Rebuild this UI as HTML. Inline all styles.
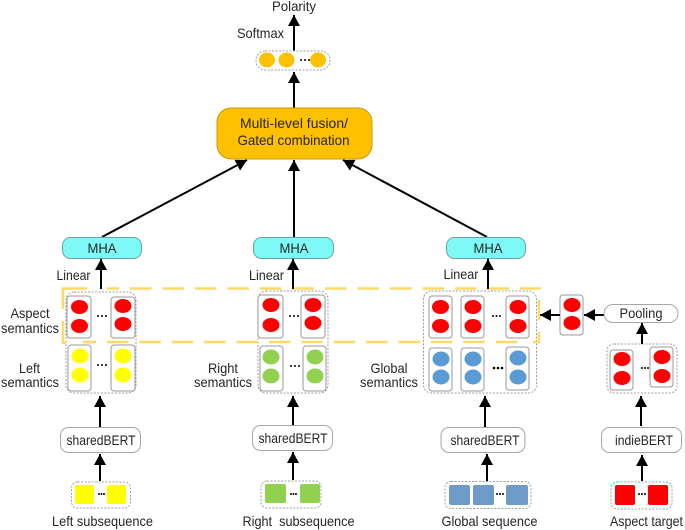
<!DOCTYPE html>
<html><head><meta charset="utf-8"><style>
html,body{margin:0;padding:0;background:#fff;width:685px;height:530px;overflow:hidden}
svg{display:block}
text{font-family:"Liberation Sans",sans-serif;font-size:14px;fill:#262626;text-anchor:middle}
.c{fill:#fff;stroke:#999;stroke-width:1}
.d{fill:none;stroke:#a0a0a0;stroke-width:1;stroke-dasharray:2 1.5}
.b{fill:#fff;stroke:#a6a6a6;stroke-width:1}
.m{fill:#7dfaf8;stroke:#6aa5a5;stroke-width:1}
.a{stroke:#000;stroke-width:2;fill:none;marker-end:url(#h)}
.o{stroke:#ffd966;stroke-width:2.5;fill:none}
.r{fill:#ff0000}.y{fill:#ffff00}.g{fill:#92d050}.u{fill:#5b9bd5}
</style></head><body>
<svg width="685" height="530" viewBox="0 0 685 530" xmlns="http://www.w3.org/2000/svg">
<defs><marker id="h" markerUnits="userSpaceOnUse" markerWidth="13" markerHeight="13" refX="11" refY="6" orient="auto"><path d="M0 0L11 6L0 12Z" fill="#000"/></marker></defs>

<!-- containers -->
<rect class="d" x="66" y="292" width="70" height="101" rx="8"/>
<rect class="d" x="258" y="291" width="70" height="102" rx="8"/>
<rect class="d" x="423.500" y="291" width="113" height="102" rx="8"/>
<rect class="d" x="607" y="344" width="70" height="49" rx="7"/>

<!-- orange dashed frame -->
<path class="o" d="M63 309V288.500H87M107 288.500H119"/>
<path class="o" stroke-dasharray="21.500 11" d="M130 288.500H541"/>
<path class="o" d="M63 321V343H66M83 342H96"/>
<path class="o" stroke-dasharray="21.400 11" d="M107 342H528"/>
<path class="o" d="M539 300V320M539 332V342H533"/>

<!-- left cards -->
<rect class="c" x="67" y="296" width="24" height="42" rx="3"/><ellipse class="r" cx="79.500" cy="307" rx="8.500" ry="7"/><ellipse class="r" cx="79.500" cy="326" rx="8.500" ry="7"/>
<rect class="c" x="111" y="297" width="24" height="41" rx="3"/><ellipse class="r" cx="123" cy="306" rx="8.500" ry="7"/><ellipse class="r" cx="123" cy="324" rx="8.500" ry="7"/>
<rect class="c" x="68" y="345" width="23" height="46" rx="3"/><ellipse class="y" cx="80" cy="356" rx="8.500" ry="7.500"/><ellipse class="y" cx="80" cy="375" rx="8.500" ry="7.500"/>
<rect class="c" x="111" y="345" width="24" height="46" rx="3"/><ellipse class="y" cx="123" cy="356" rx="8.500" ry="7.500"/><ellipse class="y" cx="123" cy="375" rx="8.500" ry="7.500"/>

<!-- middle cards -->
<rect class="c" x="258" y="295" width="25" height="43" rx="3"/><ellipse class="r" cx="271" cy="305" rx="8.500" ry="7"/><ellipse class="r" cx="271" cy="325" rx="8.500" ry="7"/>
<rect class="c" x="301" y="295" width="24" height="43" rx="3"/><ellipse class="r" cx="313" cy="305" rx="8.500" ry="7"/><ellipse class="r" cx="313" cy="323" rx="8.500" ry="7"/>
<rect class="c" x="260" y="346" width="23" height="45" rx="3"/><ellipse class="g" cx="271" cy="357" rx="8.500" ry="7.500"/><ellipse class="g" cx="271" cy="376" rx="8.500" ry="7.500"/>
<rect class="c" x="303" y="346" width="23" height="45" rx="3"/><ellipse class="g" cx="315" cy="357" rx="8.500" ry="7.500"/><ellipse class="g" cx="315" cy="376" rx="8.500" ry="7.500"/>

<!-- global cards -->
<rect class="c" x="429" y="296" width="23" height="42" rx="3"/><ellipse class="r" cx="440.500" cy="307" rx="8.500" ry="7"/><ellipse class="r" cx="440.500" cy="326" rx="8.500" ry="7"/>
<rect class="c" x="461" y="296" width="23" height="42" rx="3"/><ellipse class="r" cx="473" cy="307" rx="8.500" ry="7"/><ellipse class="r" cx="473" cy="326" rx="8.500" ry="7"/>
<rect class="c" x="506" y="296" width="23" height="42" rx="3"/><ellipse class="r" cx="518" cy="307" rx="8.500" ry="7"/><ellipse class="r" cx="518" cy="326" rx="8.500" ry="7"/>
<rect class="c" x="429" y="348" width="23" height="43" rx="3"/><ellipse class="u" cx="441" cy="359" rx="8.500" ry="7.500"/><ellipse class="u" cx="441" cy="377" rx="8.500" ry="7.500"/>
<rect class="c" x="461" y="348" width="23" height="43" rx="3"/><ellipse class="u" cx="473" cy="359" rx="8.500" ry="7.500"/><ellipse class="u" cx="473" cy="377" rx="8.500" ry="7.500"/>
<rect class="c" x="506" y="347" width="23" height="43" rx="3"/><ellipse class="u" cx="518" cy="358" rx="8.500" ry="7.500"/><ellipse class="u" cx="518" cy="377" rx="8.500" ry="7.500"/>

<!-- aspect column cards -->
<rect class="c" x="560" y="295" width="23" height="40" rx="3"/><ellipse class="r" cx="572" cy="305" rx="8.500" ry="7"/><ellipse class="r" cx="572" cy="323" rx="8.500" ry="7"/>
<rect class="c" x="610" y="350" width="23" height="40" rx="3"/><ellipse class="r" cx="622" cy="359" rx="8.500" ry="7"/><ellipse class="r" cx="622" cy="378" rx="8.500" ry="7"/>
<rect class="c" x="650" y="347" width="23" height="40" rx="3"/><ellipse class="r" cx="662" cy="357" rx="8.500" ry="7"/><ellipse class="r" cx="662" cy="376" rx="8.500" ry="7"/>

<!-- connectors -->
<line class="a" x1="294" y1="51" x2="294" y2="15"/>
<line class="a" x1="294" y1="108" x2="294" y2="72"/>
<line class="a" x1="294" y1="237" x2="294" y2="160"/>
<line class="a" x1="102" y1="237" x2="247" y2="160"/>
<line class="a" x1="487" y1="237" x2="343" y2="160"/>
<line class="a" x1="101" y1="289" x2="101" y2="259"/>
<line class="a" x1="293" y1="289" x2="293" y2="259"/>
<line class="a" x1="488" y1="289" x2="488" y2="259"/>
<line class="a" x1="100" y1="427" x2="100" y2="396"/>
<line class="a" x1="293" y1="425" x2="293" y2="396"/>
<line class="a" x1="485" y1="427" x2="485" y2="396"/>
<line class="a" x1="641" y1="426" x2="641" y2="396"/>
<line class="a" x1="100" y1="481" x2="100" y2="454"/>
<line class="a" x1="293" y1="480" x2="293" y2="452"/>
<line class="a" x1="487" y1="481" x2="487" y2="454"/>
<line class="a" x1="642" y1="481" x2="642" y2="455"/>
<line class="a" x1="642" y1="344" x2="642" y2="323"/>
<line class="a" x1="604" y1="315" x2="584" y2="315"/>
<line class="a" x1="560" y1="315" x2="540" y2="315"/>

<!-- softmax pill -->
<rect class="d" x="256" y="51" width="74" height="19" rx="9" fill="#fff"/>
<ellipse fill="#ffc000" cx="267" cy="60" rx="8" ry="7.500"/><ellipse fill="#ffc000" cx="286.500" cy="60" rx="8" ry="7.500"/><ellipse fill="#ffc000" cx="318" cy="60" rx="8" ry="7.500"/>

<!-- fusion -->
<rect x="217" y="108" width="155" height="51" rx="14" fill="#ffc000" stroke="#c89a10" stroke-width="1"/>
<text x="294" y="128" textLength="108" lengthAdjust="spacingAndGlyphs">Multi-level fusion/</text>
<text x="293.500" y="145" textLength="112" lengthAdjust="spacingAndGlyphs">Gated combination</text>

<!-- MHA -->
<rect class="m" x="62.500" y="237.500" width="79" height="21" rx="8"/>
<rect class="m" x="253.500" y="237.500" width="80" height="21" rx="8"/>
<rect class="m" x="446.500" y="237.500" width="79" height="21" rx="8"/>
<text x="102" y="253" textLength="29" lengthAdjust="spacingAndGlyphs">MHA</text>
<text x="294" y="253" textLength="29" lengthAdjust="spacingAndGlyphs">MHA</text>
<text x="488" y="253" textLength="29" lengthAdjust="spacingAndGlyphs">MHA</text>

<!-- BERT boxes -->
<rect class="b" x="60.500" y="427.500" width="80" height="25" rx="8"/>
<rect class="b" x="252.500" y="425.500" width="80" height="25" rx="8"/>
<rect class="b" x="441" y="427.500" width="84" height="25" rx="8"/>
<rect class="b" x="601.500" y="427.500" width="80" height="25" rx="8"/>
<text x="101" y="445" textLength="69" lengthAdjust="spacingAndGlyphs">sharedBERT</text>
<text x="293" y="443" textLength="69" lengthAdjust="spacingAndGlyphs">sharedBERT</text>
<text x="485" y="445" textLength="69" lengthAdjust="spacingAndGlyphs">sharedBERT</text>
<text x="644" y="445" textLength="58" lengthAdjust="spacingAndGlyphs">indieBERT</text>

<!-- pooling -->
<rect class="b" x="604" y="304.500" width="74" height="18" rx="9"/>
<text x="641" y="318" textLength="43" lengthAdjust="spacingAndGlyphs">Pooling</text>

<!-- input sequences -->
<rect class="d" x="71.500" y="482" width="59" height="26" rx="6"/>
<rect x="75" y="485" width="19" height="19" rx="2" fill="#ffff00"/><rect x="107" y="485" width="19" height="19" rx="2" fill="#ffff00"/>
<rect class="d" x="261" y="481" width="60" height="27" rx="6"/>
<rect x="265" y="484" width="21" height="19" rx="2" fill="#92d050"/><rect x="300" y="484" width="20" height="19" rx="2" fill="#92d050"/>
<rect class="d" x="445" y="481.500" width="86" height="27" rx="6"/>
<rect x="449" y="485" width="21" height="20" rx="2" fill="#6f9bc9"/><rect x="473" y="485" width="21" height="20" rx="2" fill="#6f9bc9"/><rect x="506" y="485" width="22" height="20" rx="2" fill="#6f9bc9"/>
<rect class="d" x="611" y="482" width="61" height="27" rx="6"/>
<rect x="615" y="485" width="20" height="20" rx="2" fill="#ff0000"/><rect x="648" y="485" width="20" height="20" rx="2" fill="#ff0000"/>

<!-- ellipsis dots -->
<g fill="#000">
<circle cx="98" cy="316" r="1"/><circle cx="102" cy="316" r="1"/><circle cx="106" cy="316" r="1"/>
<circle cx="98" cy="365" r="1"/><circle cx="102" cy="365" r="1"/><circle cx="106" cy="365" r="1"/>
<circle cx="290" cy="316" r="1"/><circle cx="294" cy="316" r="1"/><circle cx="298" cy="316" r="1"/>
<circle cx="291" cy="366" r="1"/><circle cx="295" cy="366" r="1"/><circle cx="299" cy="366" r="1"/>
<circle cx="493" cy="316" r="1"/><circle cx="496.500" cy="316" r="1"/><circle cx="500" cy="316" r="1"/>
<circle cx="494" cy="368" r="1.300"/><circle cx="498" cy="368" r="1.300"/><circle cx="502" cy="368" r="1.300"/>
<circle cx="642" cy="368" r="1"/><circle cx="645" cy="368" r="1"/><circle cx="648" cy="368" r="1"/>
<circle cx="301" cy="60" r="1"/><circle cx="305" cy="60" r="1"/><circle cx="309" cy="60" r="1"/>
<circle cx="99" cy="494" r="1"/><circle cx="101.500" cy="494" r="1"/><circle cx="104" cy="494" r="1"/>
<circle cx="291" cy="494" r="1"/><circle cx="293.500" cy="494" r="1"/><circle cx="296" cy="494" r="1"/>
<circle cx="497" cy="494" r="1"/><circle cx="500" cy="494" r="1"/><circle cx="503" cy="494" r="1"/>
<circle cx="639" cy="494" r="1"/><circle cx="642" cy="494" r="1"/><circle cx="645" cy="494" r="1"/>
</g>

<!-- labels -->
<text x="294" y="11" textLength="44" lengthAdjust="spacingAndGlyphs">Polarity</text>
<text x="260.500" y="38" textLength="47" lengthAdjust="spacingAndGlyphs">Softmax</text>
<text x="73.500" y="280" textLength="34" lengthAdjust="spacingAndGlyphs">Linear</text>
<text x="266.500" y="280" textLength="35" lengthAdjust="spacingAndGlyphs">Linear</text>
<text x="461" y="279" textLength="35" lengthAdjust="spacingAndGlyphs">Linear</text>
<text x="30" y="318" textLength="39" lengthAdjust="spacingAndGlyphs">Aspect</text>
<text x="30" y="333" textLength="58" lengthAdjust="spacingAndGlyphs">semantics</text>
<text x="29.500" y="373" textLength="21" lengthAdjust="spacingAndGlyphs">Left</text>
<text x="30" y="387" textLength="58" lengthAdjust="spacingAndGlyphs">semantics</text>
<text x="223" y="373" textLength="30" lengthAdjust="spacingAndGlyphs">Right</text>
<text x="223" y="387" textLength="58" lengthAdjust="spacingAndGlyphs">semantics</text>
<text x="389" y="373" textLength="37" lengthAdjust="spacingAndGlyphs">Global</text>
<text x="389" y="387" textLength="58" lengthAdjust="spacingAndGlyphs">semantics</text>
<text x="102.500" y="526" textLength="101" lengthAdjust="spacingAndGlyphs">Left subsequence</text>
<text x="298.500" y="526" textLength="112" lengthAdjust="spacingAndGlyphs" xml:space="preserve">Right  subsequence</text>
<text x="489.500" y="526" textLength="96" lengthAdjust="spacingAndGlyphs">Global sequence</text>
<text x="646.500" y="526" textLength="73" lengthAdjust="spacingAndGlyphs">Aspect target</text>
</svg>
</body></html>
